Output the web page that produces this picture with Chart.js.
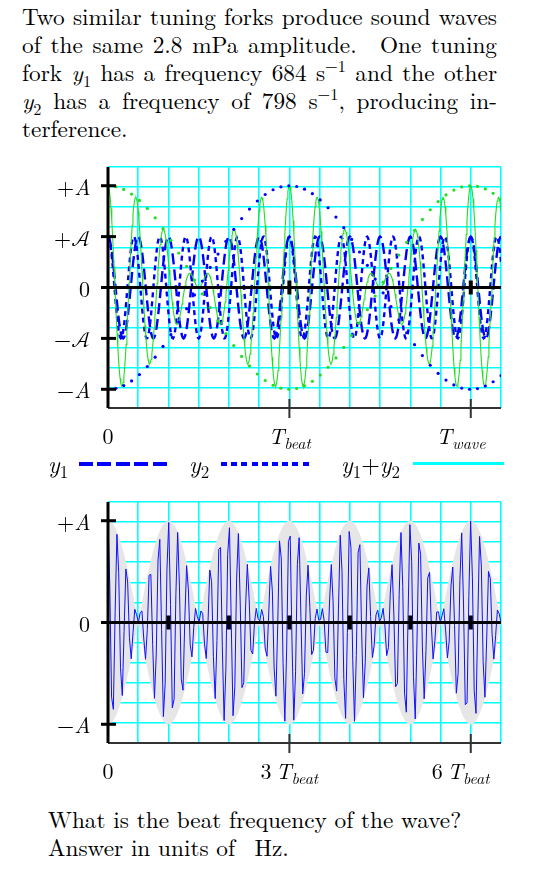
<!DOCTYPE html>
<html>
<head>
<meta charset="utf-8">
<script src="https://cdn.jsdelivr.net/npm/chart.js@4.4.0/dist/chart.umd.min.js"></script>
<style>
body { margin: 0; background: #fff; }
#page { position: relative; width: 553px; height: 891px; overflow: hidden; font-family: "Latin Modern Roman", "Liberation Serif", serif; color: #000; }
.line { position: absolute; left: 22px; width: 475px; font-size: 25px; line-height: 28px; text-align: justify; text-align-last: justify; }
.line.last { text-align-last: left; }
.q { position: absolute; left: 48px; font-size: 25px; line-height: 28px; white-space: nowrap; }
.wrap { position: absolute; left: 0; width: 553px; height: 300px; }
.lab { position: absolute; font-size: 22px; line-height: 22px; white-space: nowrap; }
.lab sub { font-size: 16px; vertical-align: -5px; line-height: 0; }
.cal { font-family: "Latin Modern Math", "DejaVu Serif", serif; font-style: normal; }
sub, sup { line-height: 0; font-size: 70%; }
.leg { position: absolute; top: 451px; font-size: 24px; line-height: 24px; }
.leg sub { font-size: 17px; vertical-align: -5px; }
.swatch { position: absolute; height: 4px; top: 462px; width: 91px; }
#probe { position: absolute; visibility: hidden; white-space: nowrap; font-size: 25px; }
</style>
</head>
<body>
<div id="page">
  <div class="line" style="top:2px">Two similar tuning forks produce sound waves</div>
  <div class="line" style="top:30px">of the same 2.8 mPa amplitude.&nbsp; One tuning</div>
  <div class="line" style="top:58px">fork <i>y</i><sub>1</sub> has a frequency 684 s<sup>−1</sup> and the other</div>
  <div class="line" style="top:86px"><i>y</i><sub>2</sub> has a frequency of 798 s<sup>−1</sup>, producing in-</div>
  <div class="line last" style="top:114px">terference.</div>
  <span id="probe">Two similar tuning forks produce sound waves</span>

  <div class="wrap" id="w1" style="top:155px"><canvas id="c1"></canvas></div>

  <div class="leg" style="left:48px"><i>y</i><sub>1</sub></div>
  <div class="swatch" style="left:79px;background:repeating-linear-gradient(90deg,#0000ff 0 14px,transparent 14px 18.5px)"></div>
  <div class="leg" style="left:189px"><i>y</i><sub>2</sub></div>
  <div class="swatch" style="left:221px;background:repeating-linear-gradient(90deg,#0000ff 0 6px,transparent 6px 10.2px)"></div>
  <div class="leg" style="left:341px"><i>y</i><sub>1</sub>+<i>y</i><sub>2</sub></div>
  <div class="swatch" style="left:413px;height:3px;background:#00ffff"></div>

  <div class="wrap" id="w2" style="top:490px"><canvas id="c2"></canvas></div>

  <div class="q" style="top:805px">What is the beat frequency of the wave?</div>
  <div class="q" style="top:833px">Answer in units of&nbsp; Hz.</div>
</div>
<script>
// wave parameters from the problem text
var freqs = [684, 798];        // s^-1 for y1, y2
var amps = [2.8, 2.8];         // mPa
var tBeat = 1000 / (freqs[1] - freqs[0]);   // ms

// axis / tick setup (x in units of T_beat)
var yTickVals1 = [5.6, 2.8, 0, -2.8, -5.6];
var yTickText1 = ['+<i>A</i>', '+<span class="cal">𝒜</span>', '0', '−<span class="cal">𝒜</span>', '−<i>A</i>'];
var yTickVals2 = [5.6, 0, -5.6];
var yTickText2 = ['+<i>A</i>', '0', '−<i>A</i>'];
var xTickVals1 = [0, 1, 2];
var xTickText1 = ['0', '<i>T</i><sub><i>beat</i></sub>', '<i>T</i><sub><i>wave</i></sub>'];
var xTickVals2 = [0, 3, 6];
var xTickText2 = ['0', '3&thinsp;<i>T</i><sub><i>beat</i></sub>', '6&thinsp;<i>T</i><sub><i>beat</i></sub>'];
var zeroTicks1 = [1, 2];
var zeroTicks2 = [1, 2, 3, 4, 5, 6];

var yMax = 6.63, rows = 12, cols = 13;
var span1 = 13 / 6, span2 = 6.5;   // plotted length in T_beat

// fit the paragraph font so the first line is about as wide as in the original
(function() {
  var p = document.getElementById('probe');
  var fs = 25 * 472 / p.offsetWidth;
  document.querySelectorAll('.line, .q').forEach(function(el) { el.style.fontSize = fs + 'px'; });
})();

function wave(i, t) { return amps[i] * Math.cos(2 * Math.PI * freqs[i] * t / 1000); }

function series(span, n, f) {
  var out = [];
  for (var k = 0; k <= n; k++) {
    var t = span * tBeat * k / n;
    out.push({ x: t, y: f(t) });
  }
  return out;
}

var y1 = series(span1, 520, function(t) { return wave(0, t); });
var y2 = series(span1, 520, function(t) { return wave(1, t); });
var sum1 = series(span1, 520, function(t) { return wave(0, t) + wave(1, t); });
var envUp = series(span1, 50, function(t) { return (amps[0] + amps[1]) * Math.cos(Math.PI * t / tBeat); });
var envDn = series(span1, 50, function(t) { return -(amps[0] + amps[1]) * Math.cos(Math.PI * t / tBeat); });

var sum2 = series(span2, 220, function(t) { return wave(0, t) + wave(1, t); });
var lobeUp = series(span2, 300, function(t) { return (amps[0] + amps[1]) * Math.abs(Math.cos(Math.PI * t / tBeat)); });
var lobeDn = series(span2, 300, function(t) { return -(amps[0] + amps[1]) * Math.abs(Math.cos(Math.PI * t / tBeat)); });

var axesPlugin = {
  id: 'axesPlugin',
  afterDatasetsDraw: function(chart, args, opts) {
    var ctx = chart.ctx, a = chart.chartArea;
    var xs = chart.scales.x, ys = chart.scales.y;
    var y0 = ys.getPixelForValue(0);
    ctx.save();
    ctx.strokeStyle = '#333';
    ctx.lineWidth = 2;
    ctx.beginPath(); ctx.moveTo(a.left, a.bottom); ctx.lineTo(a.right, a.bottom); ctx.stroke();
    opts.bottomTicks.forEach(function(v) {
      if (v === 0) return;
      var px = xs.getPixelForValue(v * tBeat);
      ctx.beginPath(); ctx.moveTo(px, a.bottom - 9); ctx.lineTo(px, a.bottom + 10); ctx.stroke();
    });
    ctx.strokeStyle = '#000';
    ctx.lineWidth = 3;
    ctx.beginPath(); ctx.moveTo(a.left, a.top); ctx.lineTo(a.left, a.bottom); ctx.stroke();
    ctx.beginPath(); ctx.moveTo(a.left, y0); ctx.lineTo(a.right, y0); ctx.stroke();
    opts.leftTicks.forEach(function(v) {
      var py = ys.getPixelForValue(v);
      ctx.beginPath(); ctx.moveTo(a.left - 7, py); ctx.lineTo(a.left + 8, py); ctx.stroke();
    });
    ctx.fillStyle = '#000';
    opts.zeroTicks.forEach(function(v) {
      var px = xs.getPixelForValue(v * tBeat);
      ctx.fillRect(px - 2, y0 - 7, 4, 14);
    });
    ctx.restore();
  }
};

function gridScales(span) {
  var step = span * tBeat / cols;
  return {
    x: {
      type: 'linear', min: 0, max: span * tBeat,
      afterBuildTicks: function(s) {
        var t = [];
        for (var k = 1; k <= cols; k++) t.push({ value: k * step });
        s.ticks = t;
      },
      afterFit: function(s) { s.height = 47; },
      ticks: { display: false },
      grid: { color: '#00ffff', lineWidth: 1.6, drawTicks: false },
      border: { display: false }
    },
    y: {
      type: 'linear', min: -yMax, max: yMax,
      afterBuildTicks: function(s) {
        var t = [];
        for (var k = 0; k <= rows; k++) t.push({ value: -yMax + k * 2 * yMax / rows });
        s.ticks = t;
      },
      afterFit: function(s) { s.width = 0; },
      ticks: { display: false },
      grid: { color: '#00ffff', lineWidth: 1.6, drawTicks: false },
      border: { display: false }
    }
  };
}

function makeChart(id, datasets, span, plug) {
  return new Chart(document.getElementById(id), {
    type: 'scatter',
    data: { datasets: datasets },
    options: {
      responsive: false,
      animation: false,
      devicePixelRatio: 1,
      layout: { padding: { left: 108, right: 52, top: 12, bottom: 0 } },
      plugins: { legend: { display: false }, tooltip: { enabled: false }, axesPlugin: plug },
      scales: gridScales(span)
    },
    plugins: [axesPlugin]
  });
}

var c1 = document.getElementById('c1'); c1.width = 553; c1.height = 300;
var c2 = document.getElementById('c2'); c2.width = 553; c2.height = 300;

var chart1 = makeChart('c1', [
  { data: envUp, showLine: false, pointRadius: 1.6, pointBackgroundColor: '#22dd22', pointBorderWidth: 0, order: 0 },
  { data: envDn, showLine: false, pointRadius: 1.6, pointBackgroundColor: '#0000ff', pointBorderWidth: 0, order: 1 },
  { data: sum1, showLine: true, borderColor: '#22dd22', borderWidth: 1.1, pointRadius: 0, order: 2 },
  { data: y2, showLine: true, borderColor: '#0000ff', borderWidth: 2.4, borderDash: [5, 4], pointRadius: 0, order: 3 },
  { data: y1, showLine: true, borderColor: '#0000ff', borderWidth: 2.4, borderDash: [11, 5], pointRadius: 0, order: 4 }
], span1, { bottomTicks: xTickVals1, leftTicks: yTickVals1, zeroTicks: zeroTicks1 });

var chart2 = makeChart('c2', [
  { data: sum2, showLine: true, borderColor: '#1010ff', borderWidth: 1, pointRadius: 0, order: 0 },
  { data: lobeUp, showLine: true, borderWidth: 0, borderColor: 'rgba(0,0,0,0)', pointRadius: 0, fill: '+1', backgroundColor: '#e6e6e6', order: 1 },
  { data: lobeDn, showLine: true, borderWidth: 0, borderColor: 'rgba(0,0,0,0)', pointRadius: 0, order: 2 }
], span2, { bottomTicks: xTickVals2, leftTicks: yTickVals2, zeroTicks: zeroTicks2 });

// tick labels as html text placed through the chart scales
function addLabels(chart, wrapId, yVals, yText, xVals, xText, xNudge) {
  var w = document.getElementById(wrapId);
  var xs = chart.scales.x, ys = chart.scales.y, a = chart.chartArea;
  yVals.forEach(function(v, i) {
    var d = document.createElement('div');
    d.className = 'lab';
    d.innerHTML = yText[i];
    w.appendChild(d);
    d.style.left = (90 - d.offsetWidth) + 'px';
    d.style.top = (ys.getPixelForValue(v) - 11) + 'px';
  });
  xVals.forEach(function(v, i) {
    var d = document.createElement('div');
    d.className = 'lab';
    d.innerHTML = xText[i];
    w.appendChild(d);
    d.style.left = (xs.getPixelForValue(v * tBeat) - d.offsetWidth / 2 + xNudge[i]) + 'px';
    d.style.top = (a.bottom + 16) + 'px';
  });
}
addLabels(chart1, 'w1', yTickVals1, yTickText1, xTickVals1, xTickText1, [0, 0, -10]);
addLabels(chart2, 'w2', yTickVals2, yTickText2, xTickVals2, xTickText2, [0, 0, -10]);
</script>
</body>
</html>
